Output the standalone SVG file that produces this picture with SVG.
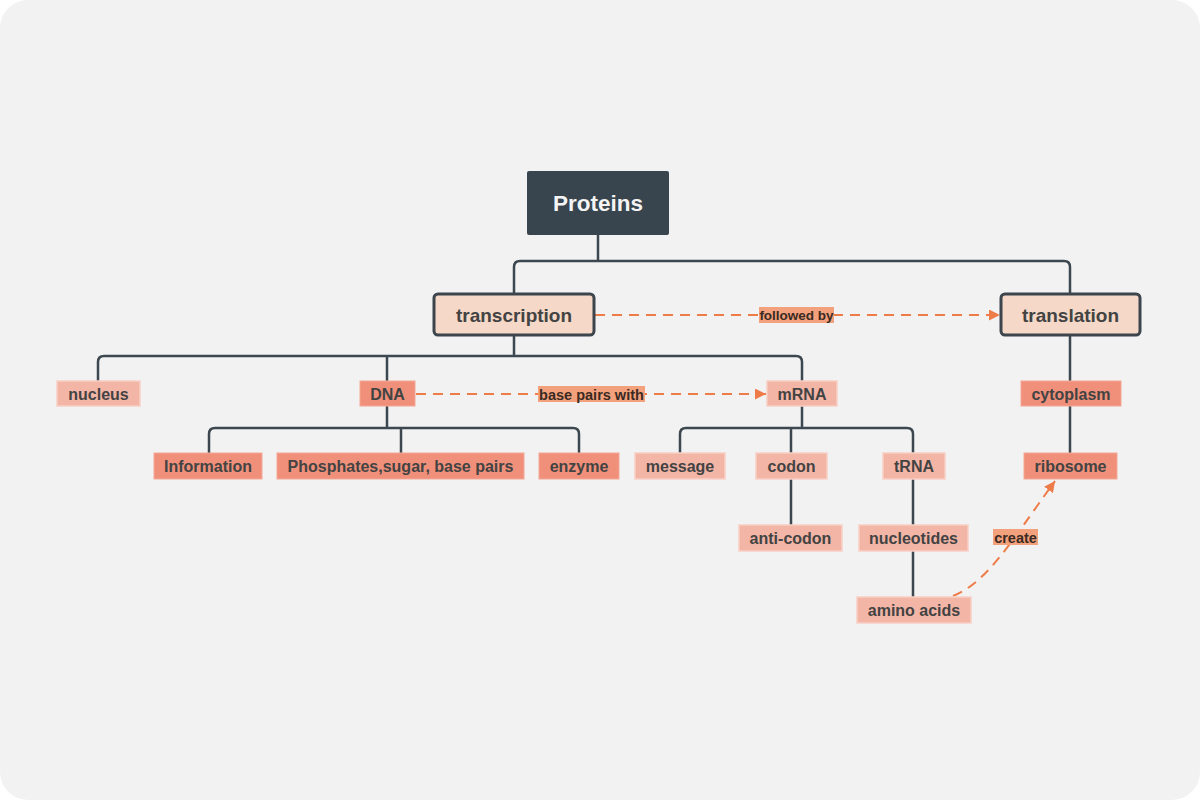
<svg xmlns="http://www.w3.org/2000/svg" width="1200" height="800" viewBox="0 0 1200 800">
<defs>
<style>
.tree{fill:none;stroke:#3c474f;stroke-width:2.5;stroke-linejoin:round}
.dash{fill:none;stroke:#ee7c48;stroke-width:2;stroke-dasharray:10 7}
.t{font-family:"Liberation Sans",Arial,sans-serif;font-weight:bold;text-anchor:middle;dominant-baseline:central;fill:#434343}
.small{font-size:16px}
.dark{fill:#f0907a;stroke:#f3a896;stroke-width:1}
.light{fill:#f3b5a6;stroke:#f8cfc5;stroke-width:1.5}
.mid{fill:#f5d8c7;stroke:#3c454d;stroke-width:3}
.lbl{fill:#f3a07c}
.lt{font-family:"Liberation Sans",Arial,sans-serif;font-weight:bold;text-anchor:middle;dominant-baseline:central;fill:#3a2a22;font-size:14.5px}
</style>
<marker id="arr" viewBox="0 0 10 10" refX="10" refY="5" markerWidth="11" markerHeight="11" markerUnits="userSpaceOnUse" orient="auto">
<path d="M0,0 L10,5 L0,10 z" fill="#ee7c48"/>
</marker>
</defs>
<rect x="0" y="0" width="1200" height="800" fill="#ffffff"/>
<rect x="0" y="0" width="1200" height="800" rx="28" fill="#f2f2f2"/>

<g id="connectors">
<path class="tree" d="M598,235 V261 M514,294 V267 Q514,261 520,261 H1064 Q1070,261 1070,267 V294"/>
<path class="tree" d="M514,335 V356 M98,381 V362 Q98,356 104,356 H796 Q802,356 802,362 V381 M387,356 V381"/>
<path class="tree" d="M387,406 V428 M209,453 V434 Q209,428 215,428 H573 Q579,428 579,434 V453 M401,428 V453"/>
<path class="tree" d="M802,406 V428 M680,453 V434 Q680,428 686,428 H907 Q913,428 913,434 V453 M791,428 V453"/>
<path class="tree" d="M791,479 V525 M913,479 V525 M913,551 V597"/>
<path class="tree" d="M1070,335 V381 M1070,406 V453"/>
<path class="dash" d="M595,315 H1000" marker-end="url(#arr)"/>
<path class="dash" d="M416,394 H766" marker-end="url(#arr)"/>
<path class="dash" d="M953,596 C988,582 1012,540 1055,481" marker-end="url(#arr)"/>
<rect class="lbl" x="759" y="307" width="75" height="16"/>
<text class="lt" x="796.5" y="315.5" style="font-size:13.5px">followed by</text>
<rect class="lbl" x="538" y="386" width="107" height="16"/>
<text class="lt" x="591.5" y="394.5">base pairs with</text>
<rect class="lbl" x="993" y="529" width="45" height="16"/>
<text class="lt" x="1015.5" y="537.5">create</text>
</g>

<g id="proteins">
<rect x="527" y="171" width="142" height="64" rx="2" fill="#38454f"/>
<text class="t" x="598" y="203" style="font-size:22.5px;fill:#f4f4f4">Proteins</text>
</g>
<g id="transcription">
<rect class="mid" x="434" y="294" width="160" height="41" rx="4"/>
<text class="t" x="514" y="315" style="font-size:19px">transcription</text>
</g>
<g id="translation">
<rect class="mid" x="1001" y="294" width="139" height="41" rx="4"/>
<text class="t" x="1070.5" y="315" style="font-size:19px">translation</text>
</g>
<g id="nucleus">
<rect class="light" x="57" y="381" width="83" height="25"/>
<text class="t small" x="98.5" y="394">nucleus</text>
</g>
<g id="dna">
<rect class="dark" x="360" y="381" width="55" height="25"/>
<text class="t small" x="387.5" y="394">DNA</text>
</g>
<g id="mrna">
<rect class="light" x="767" y="381" width="70" height="25"/>
<text class="t small" x="802" y="394">mRNA</text>
</g>
<g id="cytoplasm">
<rect class="dark" x="1021" y="381" width="100" height="25"/>
<text class="t small" x="1071" y="394">cytoplasm</text>
</g>
<g id="information">
<rect class="dark" x="154" y="453" width="108" height="26"/>
<text class="t small" x="208" y="466">Information</text>
</g>
<g id="phosphates">
<rect class="dark" x="277" y="453" width="247" height="26"/>
<text class="t small" x="400.5" y="466">Phosphates,sugar, base pairs</text>
</g>
<g id="enzyme">
<rect class="dark" x="539" y="453" width="80" height="26"/>
<text class="t small" x="579" y="466">enzyme</text>
</g>
<g id="message">
<rect class="light" x="635" y="453" width="90" height="26"/>
<text class="t small" x="680" y="466">message</text>
</g>
<g id="codon">
<rect class="light" x="756" y="453" width="71" height="26"/>
<text class="t small" x="791.5" y="466">codon</text>
</g>
<g id="trna">
<rect class="light" x="883" y="453" width="62" height="26"/>
<text class="t small" x="914" y="466">tRNA</text>
</g>
<g id="ribosome">
<rect class="dark" x="1024" y="453" width="93" height="26"/>
<text class="t small" x="1070.5" y="466">ribosome</text>
</g>
<g id="anti-codon">
<rect class="light" x="739" y="525" width="103" height="26"/>
<text class="t small" x="790.5" y="538">anti-codon</text>
</g>
<g id="nucleotides">
<rect class="light" x="859" y="525" width="109" height="26"/>
<text class="t small" x="913.5" y="538">nucleotides</text>
</g>
<g id="amino-acids">
<rect class="light" x="857" y="597" width="114" height="26"/>
<text class="t small" x="914" y="610">amino acids</text>
</g>
</svg>
